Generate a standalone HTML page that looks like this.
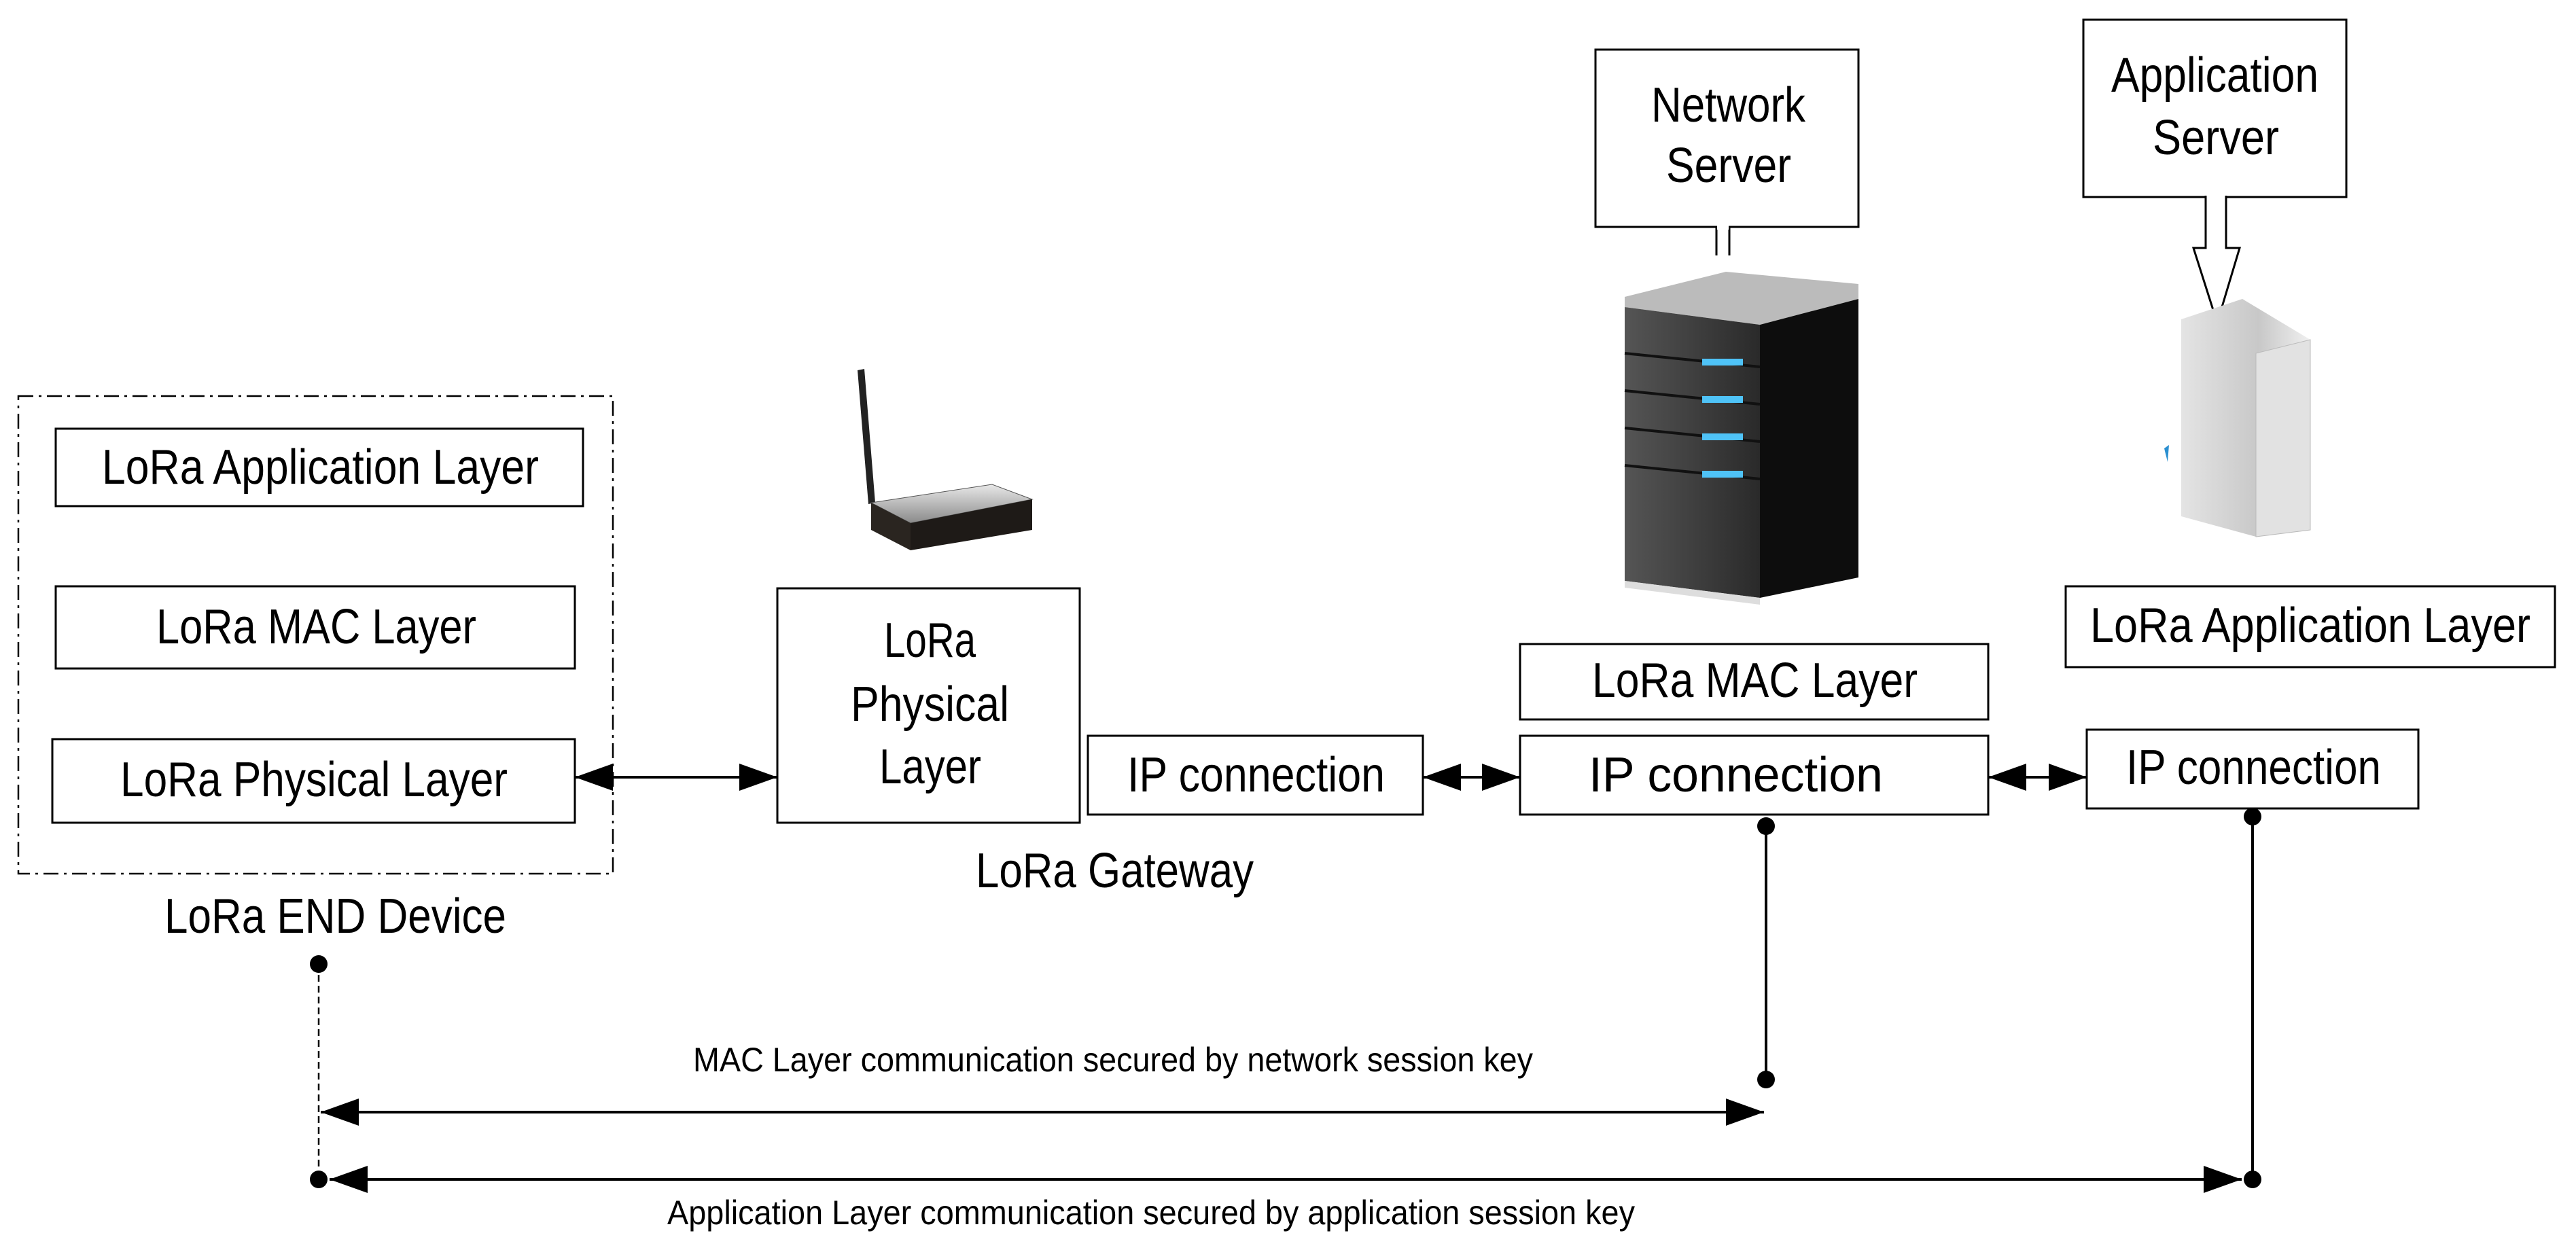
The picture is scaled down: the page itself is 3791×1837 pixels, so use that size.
<!DOCTYPE html>
<html><head><meta charset="utf-8"><style>
html,body{margin:0;padding:0;background:#fff}
svg{display:block}
text{font-family:"Liberation Sans",Arial,sans-serif;fill:#000}
</style></head><body>
<svg width="3791" height="1837" viewBox="0 0 3791 1837" xmlns="http://www.w3.org/2000/svg">
<defs>
<marker id="ah" viewBox="0 0 10 10" refX="10" refY="5" markerWidth="56" markerHeight="40" preserveAspectRatio="none" markerUnits="userSpaceOnUse" orient="auto-start-reverse"><path d="M0,0 L10,5 L0,10 z" fill="#000"/></marker>
<linearGradient id="gtop" x1="0" y1="0" x2="0" y2="1"><stop offset="0" stop-color="#e8e8e8"/><stop offset="1" stop-color="#8a8a8a"/></linearGradient>
<linearGradient id="srvL" x1="0" y1="0" x2="1" y2="0"><stop offset="0" stop-color="#555"/><stop offset="1" stop-color="#2a2a2a"/></linearGradient>
<linearGradient id="app" x1="0" y1="0" x2="1" y2="0"><stop offset="0" stop-color="#e4e4e4"/><stop offset="0.6" stop-color="#c8c8c8"/><stop offset="1" stop-color="#f0f0f0"/></linearGradient>
</defs>
<g fill="none" stroke="#000" stroke-width="3">
<rect x="27" y="583" width="875" height="703" stroke-width="2.5" stroke-dasharray="22,8,4,8"/>
<rect x="82" y="631" width="776" height="114"/>
<rect x="82" y="863" width="764" height="121"/>
<rect x="77" y="1088" width="769" height="123"/>
<rect x="1144" y="866" width="445" height="345"/>
<rect x="1601" y="1083" width="493" height="116"/>
<rect x="2237" y="1083" width="689" height="116"/>
<rect x="2237" y="948" width="689" height="111"/>
<rect x="3040" y="863" width="720" height="119"/>
<rect x="3071" y="1074" width="488" height="116"/>
<rect x="2348" y="73" width="387" height="261"/>
<rect x="3066" y="29" width="387" height="261"/>
</g>
<g stroke="#000" stroke-width="3">
<line x1="2526" y1="334" x2="2526" y2="376"/><line x1="2545" y1="334" x2="2545" y2="376"/>
</g>
<rect x="2527" y="330" width="17" height="8" fill="#fff"/>
<path d="M3246,288 L3246,365 L3228,365 L3263,475 L3296,365 L3276,365 L3276,288" fill="#fff" stroke="#000" stroke-width="3"/>
<g stroke="#000" stroke-width="4" fill="none">
<line x1="846" y1="1144" x2="1144" y2="1144" marker-start="url(#ah)" marker-end="url(#ah)"/>
<line x1="2094" y1="1144" x2="2237" y2="1144" marker-start="url(#ah)" marker-end="url(#ah)"/>
<line x1="2926" y1="1144" x2="3071" y2="1144" marker-start="url(#ah)" marker-end="url(#ah)"/>
<line x1="2599" y1="1216" x2="2599" y2="1589"/>
<line x1="3315" y1="1202" x2="3315" y2="1736"/>
<line x1="469" y1="1419" x2="469" y2="1736" stroke-width="2.5" stroke-dasharray="10,6"/>
<line x1="472" y1="1637" x2="2596" y2="1637" marker-start="url(#ah)" marker-end="url(#ah)"/>
<line x1="485" y1="1736" x2="3299" y2="1736" marker-start="url(#ah)" marker-end="url(#ah)"/>
</g>
<g fill="#000">
<circle cx="2599" cy="1216" r="13"/><circle cx="2599" cy="1589" r="13"/>
<circle cx="3315" cy="1202" r="13"/><circle cx="3315" cy="1736" r="13"/>
<circle cx="469" cy="1419" r="13"/><circle cx="469" cy="1736" r="13"/>
</g>
<g>
<polygon points="1262,545 1272,543 1288,740 1278,742" fill="#222"/>
<polygon points="1282,740 1460,713 1519,735 1340,770" fill="url(#gtop)" stroke="#555"/>
<polygon points="1282,740 1340,770 1340,810 1282,780" fill="#2a2520"/>
<polygon points="1340,770 1519,735 1519,780 1340,810" fill="#1e1a17"/>
</g>
<g>
<polygon points="2391,437 2540,400 2735,418 2735,440 2590,478 2391,452" fill="#bbb"/>
<polygon points="2391,452 2590,478 2590,880 2391,855" fill="url(#srvL)"/>
<polygon points="2590,478 2735,440 2735,850 2590,880" fill="#0d0d0d"/>
<g stroke="#111" stroke-width="4">
<line x1="2391" y1="520" x2="2590" y2="540"/><line x1="2391" y1="575" x2="2590" y2="595"/>
<line x1="2391" y1="630" x2="2590" y2="650"/><line x1="2391" y1="685" x2="2590" y2="705"/>
</g>
<g fill="#4fc3f7"><rect x="2505" y="528" width="60" height="10"/><rect x="2505" y="583" width="60" height="10"/><rect x="2505" y="638" width="60" height="10"/><rect x="2505" y="693" width="60" height="10"/></g>
<polygon points="2391,855 2590,880 2590,890 2391,865" fill="#ddd"/>
</g>
<g>
<polygon points="3210,470 3300,440 3400,500 3400,780 3320,790 3210,760" fill="url(#app)"/>
<polygon points="3320,520 3400,500 3400,780 3320,790" fill="#e2e2e2" stroke="#bbb"/>
<polygon points="3185,660 3192,655 3190,680" fill="#2a8fd0"/>
</g>
<g font-size="72" dominant-baseline="central">
<text x="150" y="688" textLength="643" lengthAdjust="spacingAndGlyphs">LoRa Application Layer</text>
<text x="230" y="923" textLength="471" lengthAdjust="spacingAndGlyphs">LoRa MAC Layer</text>
<text x="177" y="1148" textLength="570" lengthAdjust="spacingAndGlyphs">LoRa Physical Layer</text>
<text x="242" y="1349" textLength="503" lengthAdjust="spacingAndGlyphs">LoRa END Device</text>
<text x="1301" y="943" textLength="135" lengthAdjust="spacingAndGlyphs">LoRa</text>
<text x="1252" y="1037" textLength="233" lengthAdjust="spacingAndGlyphs">Physical</text>
<text x="1294" y="1129" textLength="150" lengthAdjust="spacingAndGlyphs">Layer</text>
<text x="1436" y="1282" textLength="409" lengthAdjust="spacingAndGlyphs">LoRa Gateway</text>
<text x="1659" y="1141" textLength="379" lengthAdjust="spacingAndGlyphs">IP connection</text>
<text x="2338" y="1141" textLength="433" lengthAdjust="spacingAndGlyphs">IP connection</text>
<text x="3129" y="1130" textLength="375" lengthAdjust="spacingAndGlyphs">IP connection</text>
<text x="2343" y="1002" textLength="479" lengthAdjust="spacingAndGlyphs">LoRa MAC Layer</text>
<text x="3076" y="921" textLength="648" lengthAdjust="spacingAndGlyphs">LoRa Application Layer</text>
<text x="2430" y="155" textLength="227" lengthAdjust="spacingAndGlyphs">Network</text>
<text x="2452" y="244" textLength="184" lengthAdjust="spacingAndGlyphs">Server</text>
<text x="3107" y="111" textLength="305" lengthAdjust="spacingAndGlyphs">Application</text>
<text x="3168" y="203" textLength="186" lengthAdjust="spacingAndGlyphs">Server</text>
</g>
<g font-size="50" dominant-baseline="central">
<text x="1020" y="1560" textLength="1236" lengthAdjust="spacingAndGlyphs">MAC Layer communication secured by network session key</text>
<text x="982" y="1785" textLength="1424" lengthAdjust="spacingAndGlyphs">Application Layer communication secured by application session key</text>
</g>
</svg>
</body></html>
